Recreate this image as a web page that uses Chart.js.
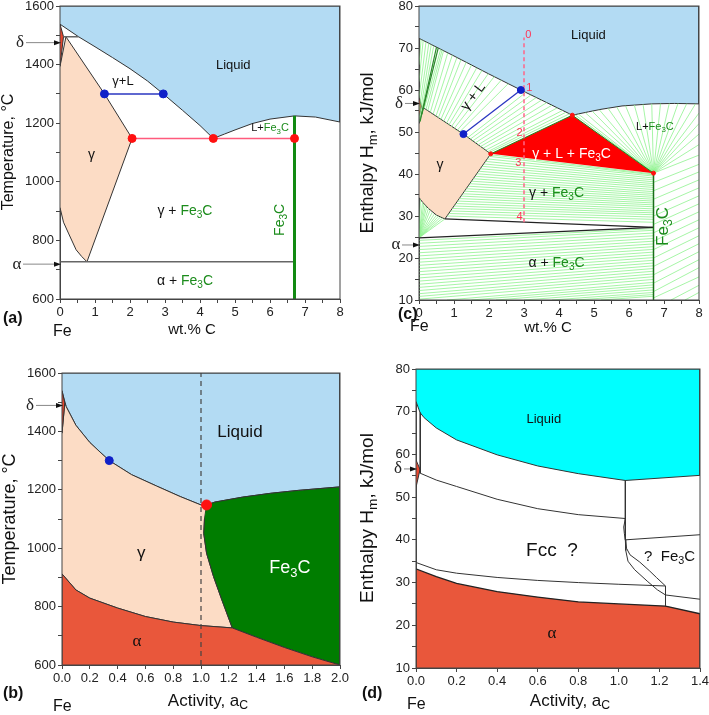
<!DOCTYPE html>
<html>
<head>
<meta charset="utf-8">
<script src="https://cdn.jsdelivr.net/npm/chart.js@4.4.1/dist/chart.umd.min.js"></script>
<style>
body { margin: 0; background: #fff; width: 709px; height: 715px; position: relative; overflow: hidden; }
canvas { position: absolute; }
</style>
</head>
<body>
<canvas id="pa" width="354" height="357" style="left:0;top:0"></canvas>
<canvas id="pc" width="354" height="357" style="left:355px;top:0"></canvas>
<canvas id="pb" width="354" height="358" style="left:0;top:357px"></canvas>
<canvas id="pd" width="354" height="358" style="left:355px;top:357px"></canvas>
<script>
// ---------- (a) temperature vs wt.% C ----------
const aLiquid = [[0,1600],[8,1600],[8,1204],[7.3,1221],[6.7,1225],[6,1214],[5.5,1199],[5,1177],[4.7,1163],[4.38,1148],[4,1192],[3.5,1244],[2.95,1300],[2.5,1344],[2,1386],[1.5,1424],[1,1461],[0.53,1495],[0,1538]];
const aGamma = [[0,1394],[0.17,1495],[1.27,1300],[2.06,1148],[0.77,727],[0.62,745],[0.46,768],[0.24,825],[0.1,862],[0,912]];
const aDelta = [[0,1538],[0.1,1495],[0,1394]];
const aPeritectic = [[0.1,1495],[0.53,1495]];
const aTie1300 = [[1.27,1300],[2.95,1300]];
const aEutectic = [[2.06,1148],[6.7,1148]];
const aEutectoid = [[0,727],[6.7,727]];
const aCementite = [[6.7,600],[6.7,1225]];
const aBlueDots = [[1.27,1300],[2.95,1300]];
const aRedDots = [[2.06,1148],[4.38,1148],[6.7,1148]];

// ---------- (b) temperature vs activity ----------
const bLiquid = [[0,1600],[2,1600],[2,1210],[1.85,1204],[1.7,1198],[1.5,1188],[1.3,1175],[1.1,1158],[1.04,1148],[1,1148],[0.85,1177],[0.68,1213],[0.5,1252],[0.34,1300],[0.2,1362],[0.1,1421],[0.03,1485],[0,1538]];
const bGamma = [[0,1394],[0.02,1497],[0.03,1485],[0.1,1421],[0.2,1362],[0.34,1300],[0.5,1252],[0.68,1213],[0.85,1177],[1,1148],[1.04,1148],[1.025,1100],[1.02,1050],[1.04,983],[1.09,903],[1.15,823],[1.225,727],[1,735],[0.8,747],[0.6,766],[0.4,795],[0.2,829],[0.1,857],[0,912]];
const bCementite = [[1.04,1148],[1.1,1158],[1.3,1175],[1.5,1188],[1.7,1198],[1.85,1204],[2,1210],[2,600],[1.8,628],[1.6,660],[1.4,695],[1.225,727],[1.15,823],[1.09,903],[1.04,983],[1.02,1050],[1.025,1100]];
const bAlpha = [[0,600],[0,912],[0.1,857],[0.2,829],[0.4,795],[0.6,766],[0.8,747],[1,735],[1.225,727],[1.4,695],[1.6,660],[1.8,628],[2,600]];
const bDelta = [[0,1540],[0.02,1497],[0,1394]];
const bUnitActivity = [[1,600],[1,1600]];
const bBlueDot = [[0.34,1300]];
const bRedDot = [[1.04,1148]];

// ---------- (c) enthalpy vs wt.% C ----------
const cLiquid = [[0,80],[8,80],[8,56.7],[7.3,56.8],[6.65,56.7],[5.8,56.2],[5.2,55.4],[4.84,54.8],[4.38,54],[3.6,57.2],[2.91,60],[2,63.8],[1,68.1],[0,72.3]];
const cGamma = [[0,52],[0.12,55.8],[1.27,49.5],[2.05,44.8],[0.74,29.3],[0.5,30.2],[0.27,31.8],[0.1,33.3],[0,34.4]];
const cDelta = [[0,58.5],[0.07,56.2],[0.03,54.6],[0,53.5]];
const cThreePhase = [[2.05,44.8],[4.38,54],[6.7,40.2]];
const cGammaCemBase = [[0.74,29.3],[6.7,27.3]];
const cAlphaCemTop = [[0,24.8],[6.7,27.3]];
const cCementite = [[6.7,10],[6.7,40.2]];
const cTie = [[1.27,49.5],[2.91,60]];
const cPath = [[3,28.5],[3,72.5]];
const cBlueDots = [[1.27,49.5],[2.91,60]];
const cRedDots = [[2.05,44.8],[4.38,54],[6.7,40.2]];
// tie lines [x1, y1, x2, y2]
const cTiesGammaL = [[0.25,55.06,0.7,69.34],[0.32,54.6,0.82,68.8],[0.4,54.2,0.95,68.28],[0.48,53.7,1.08,67.7],[0.55,53.35,1.2,67.22],[0.62,52.9,1.35,66.6],[0.7,52.49,1.5,65.96],[0.78,52,1.65,65.3],[0.85,51.64,1.8,64.69],[0.92,51.2,1.98,63.9],[1,50.78,2.15,63.21],[1.08,50.3,2.35,62.35],[1.15,49.93,2.55,61.51],[1.38,48.6,3.05,59.4],[1.45,48.22,3.2,58.82],[1.52,47.8,3.35,58.2],[1.6,47.36,3.5,57.59],[1.68,46.9,3.65,57],[1.75,46.51,3.8,56.37],[1.82,46.1,3.95,55.75],[1.9,45.65,4.1,55.14],[1.96,45.3,4.2,54.7],[2,45.08,4.3,54.33]];
const cTiesLiqCem = [[6.7,40.2,4.45,54.15],[6.7,40.2,4.55,54.3],[6.7,40.2,4.75,54.6],[6.7,40.2,4.95,54.95],[6.7,40.2,5.15,55.3],[6.7,40.2,5.4,55.65],[6.7,40.2,5.65,55.95],[6.7,40.2,5.9,56.25],[6.7,40.2,6.15,56.45],[6.7,40.2,6.4,56.6],[6.7,40.2,6.65,56.7],[6.7,40.2,6.9,56.75],[6.7,40.2,7.15,56.8],[6.7,40.2,7.4,56.8],[6.7,40.2,7.65,56.75],[6.7,40.2,7.9,56.7],[6.7,40.2,8,54.5],[6.7,40.2,8,52],[6.7,40.2,8,49.5],[6.7,40.2,8,47],[6.7,40.2,8,44.5]];
const cTiesGammaCem = [[2.03,44.6,6.7,40],[2,44.2,6.7,39.8],[1.95,43.6,6.7,39.5],[1.9,43,6.7,39.05],[1.85,42.4,6.7,38.6],[1.8,41.84,6.7,38.15],[1.75,41.25,6.7,37.7],[1.7,40.66,6.7,37.25],[1.65,40.06,6.7,36.8],[1.6,39.47,6.7,36.3],[1.55,38.88,6.7,35.8],[1.5,38.29,6.7,35.35],[1.45,37.7,6.7,34.9],[1.4,37.1,6.7,34.45],[1.35,36.5,6.7,34],[1.3,35.92,6.7,33.55],[1.25,35.3,6.7,33.1],[1.2,34.74,6.7,32.65],[1.15,34.15,6.7,32.2],[1.1,33.56,6.7,31.7],[1.05,32.97,6.7,31.2],[1,32.38,6.7,30.75],[0.95,31.8,6.7,30.3],[0.9,31.2,6.7,29.75],[0.85,30.6,6.7,29.2],[0.8,30,6.7,28.5]];
const cTiesAlphaCem = [[0,24.2,6.7,27],[0,23.5,6.7,26.6],[0,22.75,6.7,25.95],[0,22,6.7,25.3],[0,21.25,6.7,24.65],[0,20.5,6.7,24],[0,19.75,6.7,23.35],[0,19,6.7,22.7],[0,18.25,6.7,22.05],[0,17.5,6.7,21.4],[0,16.75,6.7,20.75],[0,16,6.7,20.1],[0,15.25,6.7,19.45],[0,14.5,6.7,18.8],[0,13.75,6.7,18.15],[0,13,6.7,17.5],[0,12.25,6.7,16.85],[0,11.5,6.7,16.2],[0,10.85,6.7,15.55],[0,10.2,6.7,14.9],[0.8,10,6.7,14.2],[1.5,10,6.7,13.6],[2.2,10,6.7,13],[3,10,6.7,12.4],[3.8,10,6.7,11.8],[4.5,10,6.7,11.3],[5.2,10,6.7,10.9]];
const cTiesAlphaGamma = [[0,24.8,0.74,29.3],[0,24.8,0.68,29.55],[0,24.8,0.62,29.8],[0,24.8,0.56,30],[0,24.8,0.5,30.2],[0,24.8,0.44,30.5],[0,24.8,0.38,30.9],[0,24.8,0.32,31.4],[0,24.8,0.27,31.8],[0,24.8,0.22,32.2],[0,24.8,0.18,32.5],[0,24.8,0.14,32.9],[0,24.8,0.1,33.3],[0,24.8,0.04,34]];
const cTiesRight = [[6.7,38,8,42.3],[6.7,36,8,40.5],[6.7,34,8,38.6],[6.7,32,8,36.7],[6.7,30,8,34.8],[6.7,28,8,32.9],[6.7,26,8,31],[6.7,24,8,29.1],[6.7,22,8,27.2],[6.7,20,8,25.3],[6.7,18,8,23.4],[6.7,16,8,21.5],[6.7,14,8,19.6],[6.7,12,8,17.7],[6.7,10.5,8,15.5],[7.2,10,8,13.5],[7.6,10,8,11.8]];
const cTiesDelta = [[0,53,0.35,70.8],[0,55,0.28,71.1],[0,58,0.2,71.45],[0,62,0.12,71.8],[0,66,0.06,72.05],[0.02,52.5,0.42,70.5],[0.15,55.6,0.62,69.7],[0.2,55.35,0.66,69.5]];
const cDeltaEdges = [[0.03,52.5,0.5,70.2],[0.08,54.2,0.55,70]];
const cPathMarks = [['0',3.12,73],['1',3.15,60.4],['2',2.87,49.8],['3',2.84,42.7],['4',2.87,29.8]];

// ---------- (d) enthalpy vs activity ----------
const dLiquid = [[0,80],[1.4,80],[1.4,55.1],[1.032,53.9],[0.8,55.5],[0.6,57.3],[0.4,59.9],[0.2,63.4],[0.1,66.2],[0.04,68.6],[0.02,69.8],[0,72.4]];
const dAlpha = [[0,10],[0,33.2],[0.1,31.4],[0.2,29.8],[0.4,27.9],[0.6,26.6],[0.8,25.5],[1,25],[1.23,24.5],[1.4,22.7],[1.4,10]];
const dDelta = [[0,58.7],[0.02,56.5],[0,52.3]];
const dDeltaEdge = [[0.021,69.8],[0.021,55.6]];
const dUpper = [[0.021,55.6],[0.1,54],[0.2,52.5],[0.4,49.5],[0.6,47.3],[0.8,45.9],[1.032,45]];
const dLower = [[0,34.7],[0.1,33],[0.2,32.2],[0.4,31.2],[0.6,30.5],[0.8,30],[1,29.6],[1.23,29.2]];
const dStepA = [[1.032,53.9],[1.032,40]];
const dKink = [[1.032,45],[1.024,43],[1.027,41.5],[1.032,40]];
const dShelf = [[1.032,40],[1.4,41.2]];
const dCurveA = [[1.032,40],[1.038,38],[1.055,36.5],[1.103,34.8],[1.15,32.8],[1.185,31.2],[1.23,29.2]];
const dCurveB = [[1.032,40],[1.034,37.5],[1.045,35],[1.078,33],[1.143,30.2],[1.19,28.3],[1.23,27.1],[1.4,26.1]];
const dStepB = [[1.23,29.2],[1.23,24.5]];

// ---------- styling ----------
const SANS = '"Liberation Sans", Arial, sans-serif';
const SERIF = '"Liberation Serif", "Times New Roman", serif';
const K = '#111';
const G = '#1c8c1c';
const W = '#fff';
const LIQ = '#b3dbf3';
const PEACH = '#fcdcc5';
const RED = '#e8472e';
const ALPHA = '#e9573b';
const TIE = '#8ff28f';
const EDGE = '#333';

function fe3c(c) { return [['Fe', c], ['3', c, 1], ['C', c]]; }

function xy(list) { return list.map(p => ({x: p[0], y: p[1]})); }
function area(list, color, order, edge, bw) {
  return {data: xy(list), fill: 'shape', backgroundColor: color, borderColor: edge || EDGE,
    borderWidth: bw === undefined ? 1 : bw, pointRadius: 0, order: order};
}
function line(list, color, width, order, dash) {
  return {data: xy(list), fill: false, borderColor: color, borderWidth: width,
    borderDash: dash || [], pointRadius: 0, order: order};
}
function dots(list, color, r) {
  return {data: xy(list), showLine: false, pointRadius: r, pointBackgroundColor: color,
    pointBorderColor: color, order: 0};
}
function ties(segs, color, width, order) {
  return segs.map(s => line([[s[0], s[1]], [s[2], s[3]]], color, width, order));
}

function drawParts(ctx, parts, x, y, size, family, align, bold) {
  const fontOf = p => (bold ? 'bold ' : '') + (p[2] ? size * 0.72 : size) + 'px ' + family;
  const widths = parts.map(p => { ctx.font = fontOf(p); return ctx.measureText(p[0]).width; });
  const total = widths.reduce((a, b) => a + b, 0);
  let cx = align === 'left' ? x : align === 'right' ? x - total : x - total / 2;
  parts.forEach((p, i) => {
    ctx.font = fontOf(p);
    ctx.fillStyle = p[1];
    ctx.fillText(p[0], cx, p[2] ? y + size * 0.3 : y);
    cx += widths[i];
  });
}

function decor(spec) {
  return {
    id: 'decor',
    afterDatasetsDraw(chart) {
      const {ctx, chartArea: ca, scales: {x, y}} = chart;
      ctx.save();
      ctx.strokeStyle = '#444';
      ctx.lineWidth = 1;
      ctx.strokeRect(ca.left, ca.top, ca.right - ca.left, ca.bottom - ca.top);
      ctx.textBaseline = 'middle';
      (spec.labels || []).forEach(l => {
        ctx.save();
        ctx.translate(x.getPixelForValue(l.x), y.getPixelForValue(l.y));
        if (l.rot) ctx.rotate(l.rot * Math.PI / 180);
        drawParts(ctx, l.parts, 0, 0, l.size, l.family || SANS, 'center');
        ctx.restore();
      });
      (spec.arrows || []).forEach(a => {
        const py = y.getPixelForValue(a.y);
        drawParts(ctx, [[a.text, '#222']], a.tx, py, a.size, SERIF, 'center');
        ctx.strokeStyle = '#888';
        ctx.lineWidth = 1;
        ctx.beginPath();
        ctx.moveTo(a.tx + 6, py);
        ctx.lineTo(ca.left - 4, py);
        ctx.stroke();
        ctx.fillStyle = '#111';
        ctx.beginPath();
        ctx.moveTo(ca.left + 1, py);
        ctx.lineTo(ca.left - 6, py - 2.5);
        ctx.lineTo(ca.left - 6, py + 2.5);
        ctx.closePath();
        ctx.fill();
      });
      (spec.texts || []).forEach(t => {
        ctx.save();
        ctx.translate(t.cx, t.cy);
        if (t.rot) ctx.rotate(t.rot * Math.PI / 180);
        drawParts(ctx, t.parts, 0, 0, t.size, SANS, t.align || 'center', t.bold);
        ctx.restore();
      });
      ctx.restore();
    }
  };
}

function isStep(v, every) { const r = v / every; return Math.abs(r - Math.round(r)) < 1e-6; }

function makeChart(id, box, xs, ys, datasets, spec) {
  const tickFont = {family: SANS, size: 13};
  new Chart(document.getElementById(id), {
    type: 'line',
    data: {datasets: datasets},
    options: {
      responsive: false,
      animation: false,
      events: [],
      layout: {padding: {left: 0, right: box.padR, top: box.padT, bottom: 0}},
      plugins: {legend: {display: false}, tooltip: {enabled: false}},
      scales: {
        x: {
          type: 'linear', min: xs.min, max: xs.max,
          ticks: {stepSize: xs.step, autoSkip: false, maxRotation: 0, font: tickFont, color: '#222', padding: 2,
            callback: v => isStep(v, xs.every) ? (xs.fixed ? (+v).toFixed(xs.fixed) : Math.round(v)) : ''},
          grid: {drawOnChartArea: false, tickLength: 4, color: '#444'},
          border: {color: '#444'},
          afterFit: s => { s.height = box.xH; s.paddingLeft = 0; s.paddingRight = 0; }
        },
        y: {
          type: 'linear', min: ys.min, max: ys.max,
          ticks: {stepSize: ys.step, autoSkip: false, font: tickFont, color: '#222', padding: 2,
            callback: v => isStep(v, ys.every) ? Math.round(v) : ''},
          grid: {drawOnChartArea: false, tickLength: 4, color: '#444'},
          border: {color: '#444'},
          afterFit: s => { s.width = box.yW; s.paddingTop = 0; s.paddingBottom = 0; }
        }
      }
    },
    plugins: [decor(spec)]
  });
}

// (a)
makeChart('pa', {yW: 60, padT: 6, padR: 14, xH: 58},
  {min: 0, max: 8, step: 0.5, every: 1}, {min: 600, max: 1600, step: 100, every: 200},
  [
    dots(aBlueDots, '#1020c8', 4),
    dots(aRedDots, '#ff1010', 4),
    line(aCementite, '#128a12', 3, 2),
    line(aTie1300, '#2a36c0', 1.5, 3),
    line(aEutectic, '#ff5a7c', 1.5, 3),
    line(aEutectoid, '#666', 1.5, 3),
    line(aPeritectic, '#666', 1.5, 3),
    area(aDelta, RED, 8),
    area(aGamma, PEACH, 9),
    area(aLiquid, LIQ, 10)
  ],
  {
    labels: [
      {x: 4.95, y: 1397, size: 13, parts: [['Liquid', K]]},
      {x: 1.8, y: 1344, size: 13, parts: [['γ+L', K]]},
      {x: 0.9, y: 1092, size: 14, parts: [['γ', K]]},
      {x: 3.57, y: 899, size: 14, parts: [['γ + ', K]].concat(fe3c(G))},
      {x: 3.57, y: 660, size: 14, parts: [['α + ', K]].concat(fe3c(G))},
      {x: 6.0, y: 1183, size: 11, parts: [['L+', K]].concat(fe3c(G))},
      {x: 6.3, y: 870, size: 14, rot: -90, parts: fe3c(G)}
    ],
    arrows: [{y: 1475, tx: 20, text: 'δ', size: 17}, {y: 719, tx: 17, text: 'α', size: 17}],
    texts: [
      {cx: 9, cy: 152, rot: -90, size: 16, parts: [['Temperature, °C', K]]},
      {cx: 192, cy: 330, size: 15, parts: [['wt.% C', K]]},
      {cx: 3, cy: 319, size: 16, bold: true, align: 'left', parts: [['(a)', K]]},
      {cx: 53, cy: 332, size: 16, align: 'left', parts: [['Fe', K]]}
    ]
  });

// (c)
makeChart('pc', {yW: 64, padT: 6, padR: 10, xH: 57},
  {min: 0, max: 8, step: 0.5, every: 1}, {min: 10, max: 80, step: 5, every: 10},
  [
    dots(cBlueDots, '#1020c8', 3.5),
    dots(cRedDots, '#ff1010', 2),
    line(cPath, '#ff6688', 1.5, 1, [4, 3]),
    line(cTie, '#2a36c0', 1.3, 2),
    line(cCementite, '#1a6e1a', 1.5, 2),
    line(cGammaCemBase, '#222', 1.2, 2),
    line(cAlphaCemTop, '#222', 1.2, 2),
    area(cThreePhase, '#ff0000', 3, '#1a8a1a', 1)
  ]
  .concat(ties(cDeltaEdges, '#2c8c2c', 1.2, 4))
  .concat(ties(cTiesGammaL, TIE, 0.8, 6))
  .concat(ties(cTiesLiqCem, TIE, 0.8, 6))
  .concat(ties(cTiesGammaCem, TIE, 0.8, 6))
  .concat(ties(cTiesAlphaCem, TIE, 0.8, 6))
  .concat(ties(cTiesAlphaGamma, TIE, 0.8, 6))
  .concat(ties(cTiesRight, TIE, 0.8, 6))
  .concat(ties(cTiesDelta, TIE, 0.8, 6))
  .concat([
    area(cDelta, RED, 8),
    area(cGamma, PEACH, 9),
    area(cLiquid, LIQ, 10)
  ]),
  {
    labels: [
      {x: 4.84, y: 72.9, size: 13, parts: [['Liquid', K]]},
      {x: 1.55, y: 58.4, size: 14, rot: -53, parts: [['γ + L', K]]},
      {x: 4.36, y: 44.7, size: 14, parts: [['γ + L + ', W]].concat(fe3c(W))},
      {x: 0.6, y: 42, size: 14, parts: [['γ', K]]},
      {x: 6.74, y: 51.3, size: 11, parts: [['L+', K]].concat(fe3c(G))},
      {x: 3.93, y: 35.4, size: 14, parts: [['γ + ', K]].concat(fe3c(G))},
      {x: 3.93, y: 18.7, size: 14, parts: [['α + ', K]].concat(fe3c(G))},
      {x: 6.98, y: 27.5, size: 17, rot: -90, parts: fe3c(G)}
    ].concat(cPathMarks.map(m => ({x: m[1], y: m[2], size: 11, parts: [[m[0], '#ff3355']]}))),
    arrows: [{y: 56.8, tx: 44, text: 'δ', size: 17}, {y: 23.1, tx: 41, text: 'α', size: 17}],
    texts: [
      {cx: 13, cy: 153, rot: -90, size: 18, parts: [['Enthalpy H', K], ['m', K, 1], [', kJ/mol', K]]},
      {cx: 193, cy: 328, size: 15, parts: [['wt.% C', K]]},
      {cx: 43, cy: 315, size: 16, bold: true, align: 'left', parts: [['(c)', K]]},
      {cx: 55, cy: 327, size: 16, align: 'left', parts: [['Fe', K]]}
    ]
  });

// (b)
makeChart('pb', {yW: 62, padT: 16, padR: 14, xH: 50},
  {min: 0, max: 2, step: 0.2, every: 0.2, fixed: 1}, {min: 600, max: 1600, step: 100, every: 200},
  [
    dots(bBlueDot, '#1020c8', 4),
    dots(bRedDot, '#ff1010', 5),
    line(bUnitActivity, '#444', 1.2, 2, [5, 4]),
    area(bDelta, RED, 6),
    area(bAlpha, ALPHA, 7),
    area(bCementite, '#007d00', 8),
    area(bGamma, PEACH, 9),
    area(bLiquid, LIQ, 10)
  ],
  {
    labels: [
      {x: 1.28, y: 1398, size: 17, parts: [['Liquid', K]]},
      {x: 0.57, y: 984, size: 17, parts: [['γ', K]]},
      {x: 1.64, y: 931, size: 18, parts: fe3c(W)},
      {x: 0.54, y: 681, size: 17, family: SERIF, parts: [['α', K]]}
    ],
    arrows: [{y: 1489, tx: 30, text: 'δ', size: 17}],
    texts: [
      {cx: 10, cy: 162, rot: -90, size: 18, parts: [['Temperature, °C', K]]},
      {cx: 208, cy: 344, size: 17, parts: [['Activity, a', K], ['C', K, 1]]},
      {cx: 3, cy: 337, size: 16, bold: true, align: 'left', parts: [['(b)', K]]},
      {cx: 53, cy: 350, size: 16, align: 'left', parts: [['Fe', K]]}
    ]
  });

// (d)
makeChart('pd', {yW: 61, padT: 12, padR: 9, xH: 47},
  {min: 0, max: 1.4, step: 0.2, every: 0.2, fixed: 1}, {min: 10, max: 80, step: 5, every: 10},
  [
    line(dDeltaEdge, '#333', 1, 2),
    line(dUpper, '#333', 1, 2),
    line(dLower, '#333', 1, 2),
    line(dStepA, '#333', 1, 2),
    line(dKink, '#333', 1, 2),
    line(dShelf, '#333', 1, 2),
    line(dCurveA, '#333', 1, 2),
    line(dCurveB, '#333', 1, 2),
    line(dStepB, '#333', 1, 2),
    area(dDelta, RED, 7),
    area(dAlpha, ALPHA, 8, '#222', 1.3),
    area(dLiquid, '#00ffff', 10)
  ],
  {
    labels: [
      {x: 0.63, y: 68.1, size: 13, parts: [['Liquid', K]]},
      {x: 0.67, y: 37.4, size: 19, parts: [['Fcc  ?', K]]},
      {x: 1.25, y: 36, size: 15, parts: [['?  ', K], ['Fe', K], ['3', K, 1], ['C', K]]},
      {x: 0.67, y: 18, size: 17, family: SERIF, parts: [['α', K]]}
    ],
    arrows: [{y: 56.6, tx: 43, text: 'δ', size: 17}],
    texts: [
      {cx: 13, cy: 161, rot: -90, size: 19, parts: [['Enthalpy H', K], ['m', K, 1], [', kJ/mol', K]]},
      {cx: 215, cy: 344, size: 17, parts: [['Activity, a', K], ['C', K, 1]]},
      {cx: 7, cy: 337, size: 16, bold: true, align: 'left', parts: [['(d)', K]]},
      {cx: 52, cy: 348, size: 16, align: 'left', parts: [['Fe', K]]}
    ]
  });
</script>
</body>
</html>
